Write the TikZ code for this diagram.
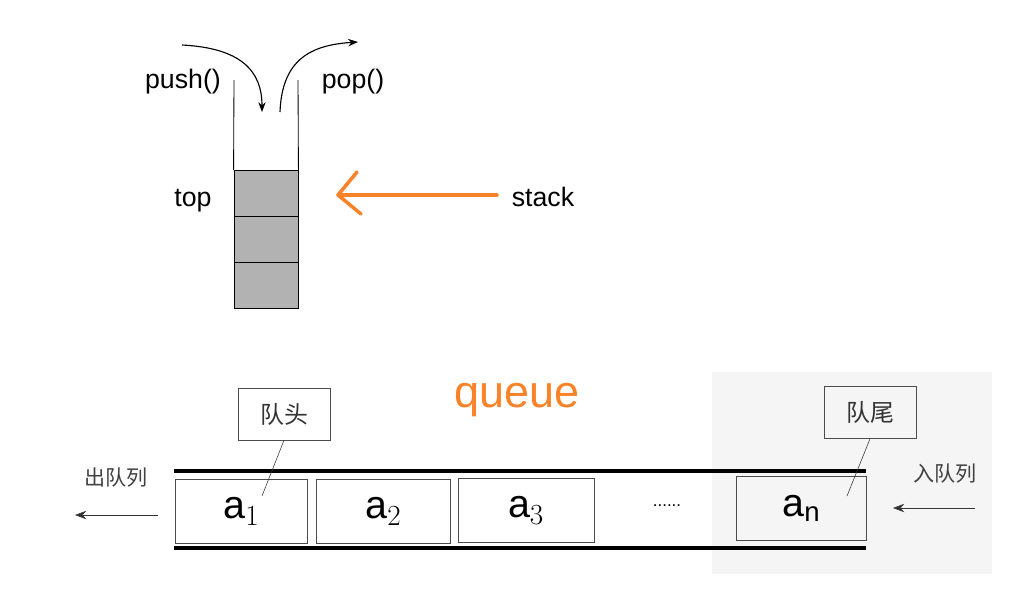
\documentclass[tikz,border=0pt]{standalone}
\usepackage{fontspec}
\setmainfont{Liberation Sans}
\newfontfamily\cjk{Noto Sans CJK SC}
\usepackage{tikz}
\usetikzlibrary{arrows.meta}
\definecolor{myorange}{RGB}{250,130,40}
\tikzset{
	cell/.style={draw, fill=gray!60, minimum width=1.6cm, minimum height=1.15cm, inner sep=0pt, line width=0.6pt},
	qcell/.style={draw=black!70, minimum height=1.58cm, inner sep=0pt, line width=0.6pt},
	tag/.style={draw=black!70, minimum width=2.3cm, minimum height=1.3cm, font=\cjk\fontsize{17}{20}\selectfont, text=black!80},
	lbl/.style={font=\fontsize{19}{22}\selectfont},
}
\begin{document}
\begin{tikzpicture}[x=0.025cm, y=-0.025cm]
	\useasboundingbox (0,0) rectangle (1016,608);
	%                              watermark area
	\fill[gray!8] (712,372) rectangle (992,574);
	%%% stack
	\node[cell] (c1) at (266,193.5) {};
	\node[cell] (c2) at (266,239) {};
	\node[cell] (c3) at (266,285) {};
	\coordinate (wl) at (234,80);
	\coordinate (wr) at (298,80);
	\draw[line width=0.6pt] (wl) -- (c1.north west);
	\draw[line width=0.6pt] (wr) -- (c1.north east);
	\coordinate (pu0) at (182,45);
	\coordinate (pu1) at (262,112);
	\coordinate (po0) at (280,112);
	\coordinate (po1) at (358,42);
	\draw[-{Stealth[length=7pt]}, thick] (pu0) .. controls (240,48) and (262,70) .. (pu1);
	\draw[-{Stealth[length=7pt]}, thick] (po0) .. controls (282,60) and (310,45) .. (po1);
	\node[lbl] (push) at (183,82) {push()};
	\node[lbl] (pop) at (353,82) {pop()};
	\node[lbl] (top) at (193,201) {top};
	\node[lbl] (stack) at (543,197) {stack};
	\coordinate (sa) at (338,195);
	\draw[myorange, line width=2.5pt, line cap=round] (497,195) -- (sa);
	\draw[myorange, line width=2.5pt, line cap=round, line join=round] (357,172) -- (sa) -- (361,214);
	%%% queue
	\node[font=\fontsize{32}{36}\selectfont, text=myorange] (queue) at (517,400) {queue};
	\coordinate (t0) at (174,471);
	\coordinate (t1) at (866,471);
	\coordinate (b0) at (174,548);
	\coordinate (b1) at (866,548);
	\draw[line width=2.2pt] (t0) -- (t1);
	\draw[line width=2.2pt] (b0) -- (b1);
	\node[qcell, minimum width=3.28cm] (a1) at (241.5,511.5) {\fontsize{28}{30}\selectfont$\mathrm{a}_1$};
	\node[qcell, minimum width=3.33cm] (a2) at (383.5,511.5) {\fontsize{28}{30}\selectfont$\mathrm{a}_2$};
	\node[qcell, minimum width=3.4cm] (a3) at (526,510.5) {\fontsize{28}{30}\selectfont$\mathrm{a}_3$};
	\node (dots) at (667,506) {\large ......};
	\node[qcell, minimum width=3.23cm] (an) at (801.5,508.5) {\fontsize{28}{30}\selectfont$\mathrm{a}_\mathrm{n}$};
	\node[tag] (head) at (284,414) {队头};
	\node[tag] (tail) at (870,412.5) {队尾};
	\coordinate (h1) at (262,496);
	\coordinate (n1) at (847,496);
	\draw[black!80] (head.south) -- (h1);
	\draw[black!80] (tail.south) -- (n1);
	\node[font=\cjk\fontsize{15}{18}\selectfont, text=black!75] (out) at (116,478) {出队列};
	\node[font=\cjk\fontsize{15}{18}\selectfont, text=black!75] (in) at (945,474) {入队列};
	\coordinate (o0) at (158,515);
	\coordinate (o1) at (75,515);
	\coordinate (i0) at (975,508);
	\coordinate (i1) at (893,508);
	\draw[-{Stealth[length=8pt]}, black!80] (o0) -- (o1);
	\draw[-{Stealth[length=8pt]}, black!80] (i0) -- (i1);
\end{tikzpicture}
\end{document}
